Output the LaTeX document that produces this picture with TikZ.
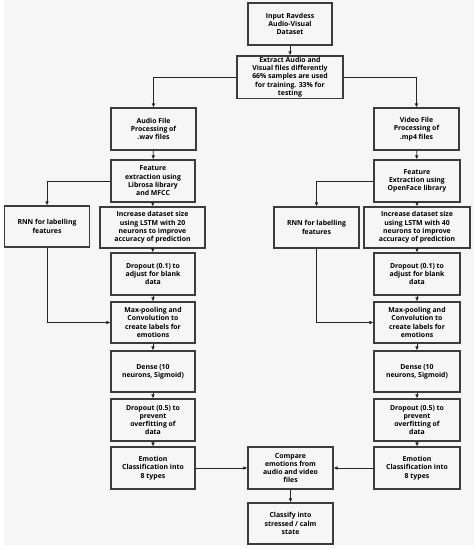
\documentclass[tikz,border=0pt]{standalone}
\usepackage{fontspec}
\setmainfont{Open Sans}
\usepackage{tikz}
\usetikzlibrary{arrows.meta,positioning,calc}
\definecolor{bggray}{RGB}{246,246,246}
\definecolor{boxline}{RGB}{60,60,60}

\tikzset{
  stage/.style={draw=boxline,line width=1.1pt,fill=bggray,align=center,
    minimum height=42pt,inner sep=1pt,font=\fontsize{6.9}{8.3}\selectfont\bfseries},
  flow/.style={line width=0.7pt,draw=black!85,-{Latex[length=4pt,width=3.6pt]}}
}

\begin{document}
\begin{tikzpicture}[x=1pt,y=-1pt]
\useasboundingbox (0,0) rectangle (474,549);
\fill[white] (0,0) rectangle (474,549);
\fill[bggray] (4,0) rectangle (474,545);
% top
\node[stage,minimum width=84pt] (input) at (290,24) {Input Ravdess\\Audio-Visual\\Dataset};
\node[stage,minimum width=106pt] (extract) at (290,77) {Extract Audio and\\Visual files differently\\66\% samples are used\\for training. 33\% for\\testing};
% audio side
\node[stage,minimum width=85pt] (audio) at (153.5,129) {Audio File\\Processing of\\.wav files};
\node[stage,minimum width=84pt] (afeat) at (153,181) {Feature\\extraction using\\Librosa library\\and MFCC};
\node[stage,minimum width=85pt,minimum height=41pt] (arnn) at (47,226.5) {RNN for labelling\\features};
\node[stage,minimum width=105pt,minimum height=41pt] (ainc) at (152.5,227.5) {Increase dataset size\\using LSTM with 20\\neurons to improve\\accuracy of prediction};
\node[stage,minimum width=84pt] (adrop) at (153,274) {Dropout (0.1) to\\adjust for blank\\data};
\node[stage,minimum width=84pt,minimum height=41pt] (apool) at (153,322.5) {Max-pooling and\\Convolution to\\create labels for\\emotions};
\node[stage,minimum width=84pt,minimum height=41pt] (adense) at (153,371.5) {Dense (10\\neurons, Sigmoid)};
\node[stage,minimum width=84pt] (adrop2) at (153,420) {Dropout (0.5) to\\prevent\\overfitting of\\data};
\node[stage,minimum width=84pt] (aemo) at (153,468) {Emotion\\Classification into\\8 types};
% video side
\node[stage,minimum width=85pt] (video) at (416.5,129) {Video File\\Processing of\\.mp4 files};
\node[stage,minimum width=86pt] (vfeat) at (417,181) {Feature\\Extraction using\\OpenFace library};
\node[stage,minimum width=85pt,minimum height=41pt] (vrnn) at (316.5,227.5) {RNN for labelling\\features};
\node[stage,minimum width=106pt,minimum height=41pt] (vinc) at (417,227.5) {Increase dataset size\\using LSTM with 40\\neurons to improve\\accuracy of prediction};
\node[stage,minimum width=86pt] (vdrop) at (417,274) {Dropout (0.1) to\\adjust for blank\\data};
\node[stage,minimum width=86pt,minimum height=41pt] (vpool) at (417,322.5) {Max-pooling and\\Convolution to\\create labels for\\emotions};
\node[stage,minimum width=86pt,minimum height=41pt] (vdense) at (417,371.5) {Dense (10\\neurons, Sigmoid)};
\node[stage,minimum width=86pt] (vdrop2) at (417,420) {Dropout (0.5) to\\prevent\\overfitting of\\data};
\node[stage,minimum width=86pt] (vemo) at (417,468) {Emotion\\Classification into\\8 types};
% bottom
\node[stage,minimum width=85pt] (compare) at (290.5,468) {Compare\\emotions from\\audio and video\\files};
\node[stage,minimum width=85pt,minimum height=41pt] (classify) at (290.5,523.5) {Classify into\\stressed / calm\\state};

\draw[flow] (input) -- (extract);
\draw[flow] (extract.west) -| (audio.north);
\draw[flow] (extract.east) -| (video.north);
% audio chain
\draw[flow] (audio) -- (afeat);
\draw[flow] (afeat.west) -| (arnn.north);
\draw[flow] (afeat) -- (ainc);
\draw[flow] (ainc) -- (adrop);
\draw[flow] (adrop) -- (apool);
\draw[flow] (arnn.south) |- (apool.west);
\draw[flow] (apool) -- (adense);
\draw[flow] (adense) -- (adrop2);
\draw[flow] (adrop2) -- (aemo);
% video chain
\draw[flow] (video) -- (vfeat);
\draw[flow] (vfeat.west) -| (vrnn.north);
\draw[flow] (vfeat) -- (vinc);
\draw[flow] (vinc) -- (vdrop);
\draw[flow] (vdrop) -- (vpool);
\draw[flow] (vrnn.south) |- (vpool.west);
\draw[flow] (vpool) -- (vdense);
\draw[flow] (vdense) -- (vdrop2);
\draw[flow] (vdrop2) -- (vemo);
% compare
\draw[flow] (aemo) -- (compare);
\draw[flow] (vemo) -- (compare);
\draw[flow] (compare) -- (classify);
\end{tikzpicture}
\end{document}
